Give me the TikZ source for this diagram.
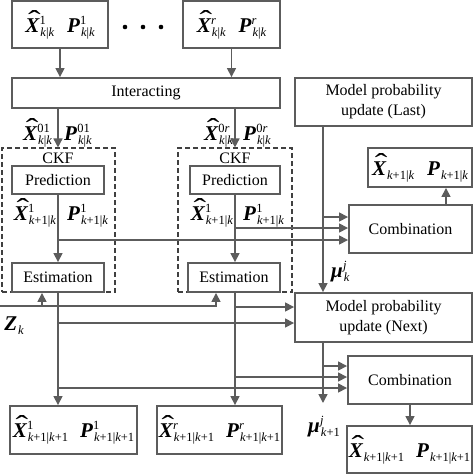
\documentclass[tikz,border=0pt]{standalone}
\usepackage{graphicx}
\usepackage{fontspec}
\setmainfont{Liberation Serif}
\usetikzlibrary{arrows.meta}
\definecolor{ln}{HTML}{5C5C5C}
% hat over X (inside the 21pt bold italic group)
\newcommand\hX{\rlap{\kern2.8pt\raisebox{3pt}{\fontseries{m}\fontshape{n}\selectfont\scalebox{1.8}[1.3]{ˆ}}}X}
% symbol with superscript and subscript, all in text mode
\newcommand\sy[3]{{\fontsize{21}{21}\selectfont\bfseries\itshape #1}\kern0.3pt\rlap{\raisebox{8pt}{\fontsize{12.5}{12.5}\selectfont #2}}\kern0.8pt\raisebox{-4pt}{\fontsize{12.5}{12.5}\selectfont #3}}
\newcommand\ik{{\itshape k}}
\newcommand\kk{\ik|\ik}
\newcommand\kpk{\ik+1|\ik}
\newcommand\kpkp{\ik+1|\ik+1}
\newcommand\ir{{\itshape r}}
\newcommand\gp{\hspace{13pt}}
\begin{document}
\begin{tikzpicture}[x=1pt,y=-1pt,
  box/.style={draw=ln,line width=1.9pt,inner sep=0pt,align=center,font=\fontsize{16}{20}\selectfont},
  conn/.style={draw=ln,line width=1.6pt},
  arr/.style={conn,-{Triangle[length=9pt,width=9pt]}},
  ckf/.style={draw=ln!70!black,line width=1.1pt,dash pattern=on 5pt off 3pt,inner sep=0pt},
  lab/.style={inner sep=0pt,font=\fontsize{16}{20}\selectfont},
  txt/.style={inner sep=0pt,font=\fontsize{16}{20}\selectfont}]
\useasboundingbox (0,0) rectangle (474,475);
% CKF dashed frames
\node[ckf,minimum width=113pt,minimum height=144pt] (c1) at (58.5,220) {};
\node[ckf,minimum width=114pt,minimum height=144pt] (cr) at (235,220) {};
\node[txt] (ck1) at (58,158) {CKF};
\node[txt] (ckr) at (235,158) {CKF};
% boxes
\node[box,minimum width=96pt,minimum height=47pt] (t1) at (60,24.5) {\sy{\hX}{1}{\kk}\gp\sy{P}{1}{\kk}};
\node[box,minimum width=97pt,minimum height=47pt] (tr) at (231.5,24.5) {\sy{\hX}{\ir}{\kk}\gp\sy{P}{\ir}{\kk}};
\foreach \i/\xx in {1/125,2/143,3/161} \fill[black] (\xx,27) circle (2.3pt);
\node[box,minimum width=268pt,minimum height=30pt] (in) at (146,93) {Interacting};
\node[box,minimum width=92pt,minimum height=28pt] (p1) at (58,180) {Prediction};
\node[box,minimum width=92pt,minimum height=29pt] (e1) at (58,277.5) {Estimation};
\node[box,minimum width=90pt,minimum height=28pt] (pr) at (235,180) {Prediction};
\node[box,minimum width=92pt,minimum height=29pt] (er) at (234,277.5) {Estimation};
\node[box,minimum width=177pt,minimum height=48pt] (mL) at (383.5,102) {Model probability\\update (Last)};
\node[box,minimum width=104pt,minimum height=39pt] (xp) at (420,167.5) {\sy{\hX}{}{\kpk}\gp\sy{P}{}{\kpk}};
\node[box,minimum width=123pt,minimum height=48pt] (cb1) at (410.5,229) {Combination};
\node[box,minimum width=177pt,minimum height=49pt] (mN) at (383.5,317.5) {Model probability\\update (Next)};
\node[box,minimum width=124pt,minimum height=48pt] (cb2) at (410,380) {Combination};
\node[box,minimum width=125pt,minimum height=47pt] (fin) at (409.5,449.5) {\sy{\hX}{}{\kpkp}\hspace{12pt}\sy{P}{}{\kpkp}};
\node[box,minimum width=127pt,minimum height=48pt] (b1) at (73.5,430) {\sy{\hX}{1}{\kpkp}\hspace{12pt}\sy{P}{1}{\kpkp}};
\node[box,minimum width=125pt,minimum height=48pt] (br) at (219.5,430) {\sy{\hX}{\ir}{\kpkp}\hspace{12pt}\sy{P}{\ir}{\kpkp}};
% labels
\node[lab,anchor=base east] (l01x) at (52,140) {\sy{\hX}{01}{\kk}};
\node[lab,anchor=base west] (l01p) at (64,140) {\sy{P}{01}{\kk}};
\node[lab,anchor=base east] (l0rx) at (233,140) {\sy{\hX}{0\ir}{\kk}};
\node[lab,anchor=base west] (l0rp) at (243,140) {\sy{P}{0\ir}{\kk}};
\node[lab,anchor=base east] (l1x) at (56,220) {\sy{\hX}{1}{\kpk}};
\node[lab,anchor=base west] (l1p) at (67,220) {\sy{P}{1}{\kpk}};
\node[lab,anchor=base east] (lrx) at (233,220) {\sy{\hX}{1}{\kpk}};
\node[lab,anchor=base west] (lrp) at (243,220) {\sy{P}{1}{\kpk}};
\node[lab,anchor=west] (muk) at (331,272) {\sy{μ}{{\itshape j}}{\ik}};
\node[lab] (muk1) at (324,427) {\sy{μ}{{\itshape j}}{\ik+1}};
\node[lab] (zk) at (14,326) {\sy{Z}{}{\ik}};
% coordinates
\coordinate (xl) at (58,0);
\coordinate (xr) at (235,0);
\coordinate (xm) at (323,0);
\coordinate (z0) at (0,306);
\coordinate (z1) at (216,306);
\coordinate (z2) at (42,306);
\coordinate (mu1) at (323,403);
% connectors top
\draw[arr] (t1.south) -- (t1.south |- in.north);
\draw[arr] (tr.south) -- (tr.south |- in.north);
\draw[arr] (xl |- in.south) -- (xl |- c1.north);
\draw[arr] (xr |- in.south) -- (xr |- cr.north);
\draw[arr] (p1.south) -- (e1.north);
\draw[arr] (pr.south) -- (pr.south |- er.north);
% to combination 1
\draw[arr] (xl |- 0,240) -- (cb1.west |- 0,240);
\draw[arr] (xr |- 0,228) -- (cb1.west |- 0,228);
\draw[arr] (xm |- mL.south) -- (xm |- mN.north);
\draw[arr] (xm |- 0,217) -- (cb1.west |- 0,217);
\draw[arr] (cb1.north -| 446,0) -- (xp.south -| 446,0);
% measurement
\draw[arr] (z0) -- (z1) -- (z1 |- er.south);
\draw[arr] (z2) -- (z2 |- e1.south);
% estimation outputs
\draw[arr] (e1.south) -- (e1.south |- b1.north);
\draw[arr] (xr |- er.south) -- (xr |- br.north);
\draw[arr] (xl |- 0,323) -- (mN.west |- 0,323);
\draw[arr] (xr |- 0,307) -- (mN.west |- 0,307);
\draw[arr] (xl |- 0,388) -- (cb2.west |- 0,388);
\draw[arr] (xr |- 0,377) -- (cb2.west |- 0,377);
\draw[arr] (xm |- mN.south) -- (mu1);
\draw[arr] (xm |- 0,366) -- (cb2.west |- 0,366);
\draw[arr] (cb2.south) -- (cb2.south |- fin.north);
\end{tikzpicture}
\end{document}
